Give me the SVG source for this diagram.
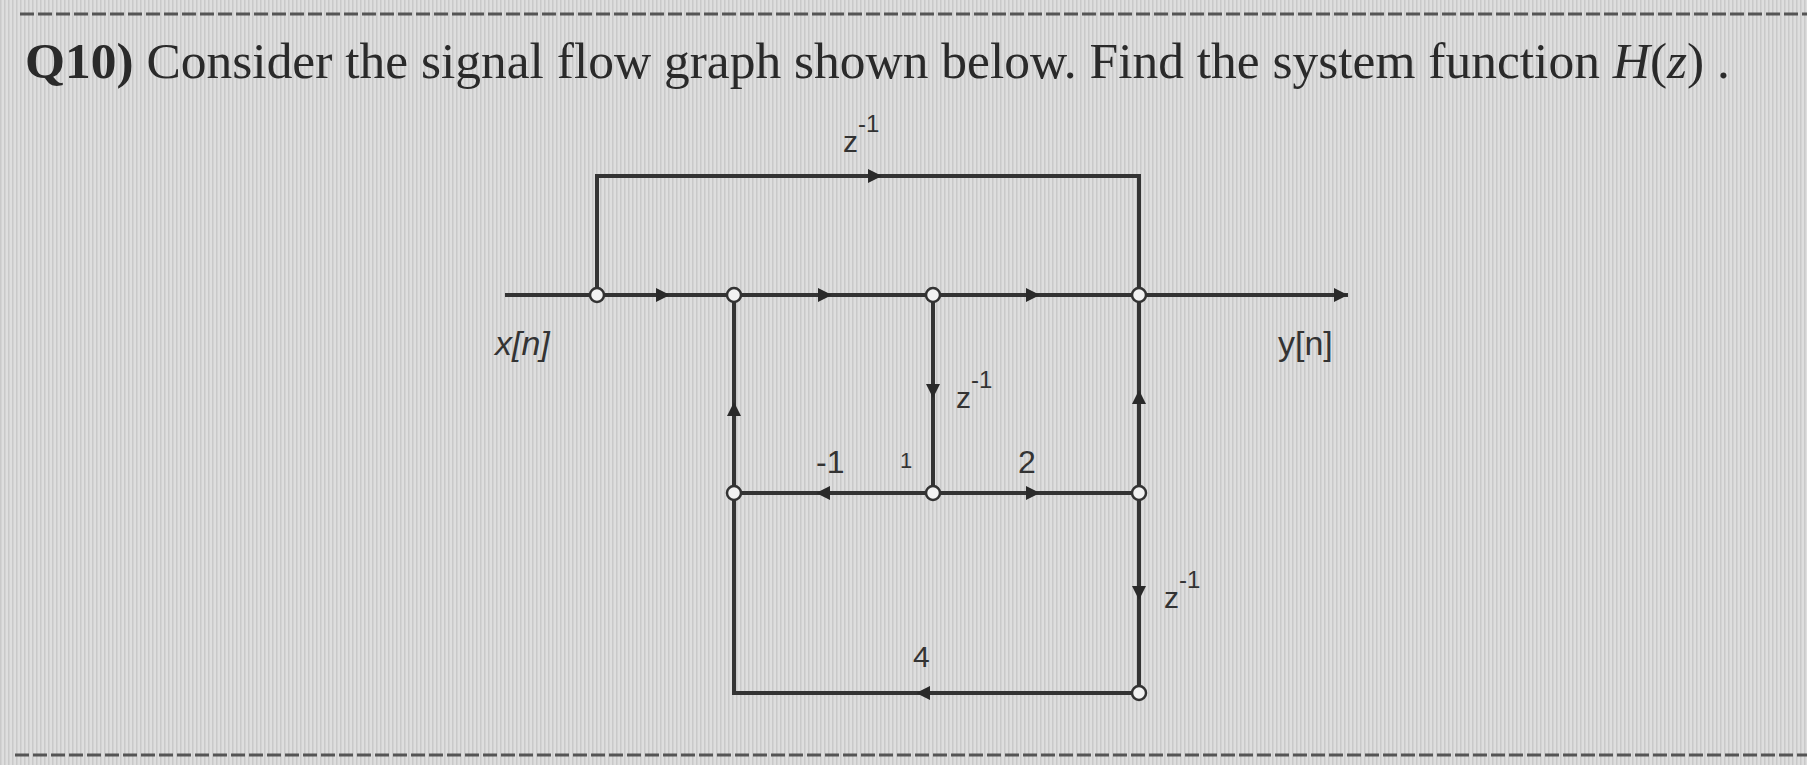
<svg xmlns="http://www.w3.org/2000/svg" width="1807" height="765" viewBox="0 0 1807 765">
<defs>
<pattern id="stripes" width="4" height="4" patternUnits="userSpaceOnUse">
<rect width="4" height="4" fill="#dedede"/>
<rect x="0" width="1.5" height="4" fill="#c9c9c9"/>
</pattern>
<marker id="ah" viewBox="0 0 10 10" refX="10" refY="5" markerWidth="18" markerHeight="14" markerUnits="userSpaceOnUse" orient="auto">
<path d="M0,0 L10,5 L0,10 Z" fill="#2a2a2a"/>
</marker>
<style>
.ln{stroke:#333;stroke-width:4;fill:none;stroke-linecap:square}
.seg{stroke:none;fill:none}
.nd{fill:#f2f2f2;stroke:#333;stroke-width:2.5}
.dash{stroke:#555;stroke-width:3;stroke-dasharray:14 4}
.ttl{font-family:"Liberation Serif",serif;font-size:50px;fill:#2a2a2a}
.lb{font-family:"Liberation Sans",sans-serif;fill:#333}
</style>
</defs>
<rect width="1807" height="765" fill="url(#stripes)"/>
<line class="dash" x1="20" y1="14" x2="1807" y2="14"/>
<line class="dash" x1="15" y1="755" x2="1807" y2="755"/>
<text class="ttl" x="25" y="78" textLength="1705" lengthAdjust="spacingAndGlyphs"><tspan font-weight="bold">Q10)</tspan> Consider the signal flow graph shown below. Find the system function <tspan font-style="italic">H</tspan>(<tspan font-style="italic">z</tspan>) .</text>

<g id="connectors">
<path class="ln" d="M507,295 H1346"/>
<path class="ln" d="M597,295 V176 H1139 V295"/>
<path class="ln" d="M734,295 V693 H1139 V295"/>
<path class="ln" d="M933,295 V493"/>
<path class="ln" d="M734,493 H1139"/>
<!-- arrowheads -->
<path class="seg" d="M640,295 L670,295" marker-end="url(#ah)"/>
<path class="seg" d="M800,295 L832,295" marker-end="url(#ah)"/>
<path class="seg" d="M1010,295 L1040,295" marker-end="url(#ah)"/>
<path class="seg" d="M1320,295 L1348,295" marker-end="url(#ah)"/>
<path class="seg" d="M850,176 L882,176" marker-end="url(#ah)"/>
<path class="seg" d="M734,430 L734,402" marker-end="url(#ah)"/>
<path class="seg" d="M933,370 L933,398" marker-end="url(#ah)"/>
<path class="seg" d="M1139,420 L1139,390" marker-end="url(#ah)"/>
<path class="seg" d="M1139,570 L1139,600" marker-end="url(#ah)"/>
<path class="seg" d="M845,493 L816,493" marker-end="url(#ah)"/>
<path class="seg" d="M1010,493 L1040,493" marker-end="url(#ah)"/>
<path class="seg" d="M945,693 L916,693" marker-end="url(#ah)"/>
</g>

<g id="n1"><circle class="nd" cx="597" cy="295" r="7"/></g>
<g id="n2"><circle class="nd" cx="734" cy="295" r="7"/></g>
<g id="n3"><circle class="nd" cx="933" cy="295" r="7"/></g>
<g id="n4"><circle class="nd" cx="1139" cy="295" r="7"/></g>
<g id="n5"><circle class="nd" cx="734" cy="493" r="7"/></g>
<g id="n6"><circle class="nd" cx="933" cy="493" r="7"/></g>
<g id="n7"><circle class="nd" cx="1139" cy="493" r="7"/></g>
<g id="n8"><circle class="nd" cx="1139" cy="693" r="7"/></g>

<g id="labels">
<text class="lb" x="495" y="355" font-size="34" font-style="italic">x[n]</text>
<text class="lb" x="1278" y="355" font-size="34">y[n]</text>
<text class="lb" x="843" y="152" font-size="30">z<tspan dy="-20" font-size="24">-1</tspan></text>
<text class="lb" x="956" y="408" font-size="30">z<tspan dy="-20" font-size="24">-1</tspan></text>
<text class="lb" x="1164" y="608" font-size="30">z<tspan dy="-20" font-size="24">-1</tspan></text>
<text class="lb" x="816" y="473" font-size="32">-1</text>
<text class="lb" x="900" y="468" font-size="22" fill="#999">1</text>
<text class="lb" x="1018" y="473" font-size="32">2</text>
<text class="lb" x="913" y="667" font-size="30">4</text>
</g>
</svg>
